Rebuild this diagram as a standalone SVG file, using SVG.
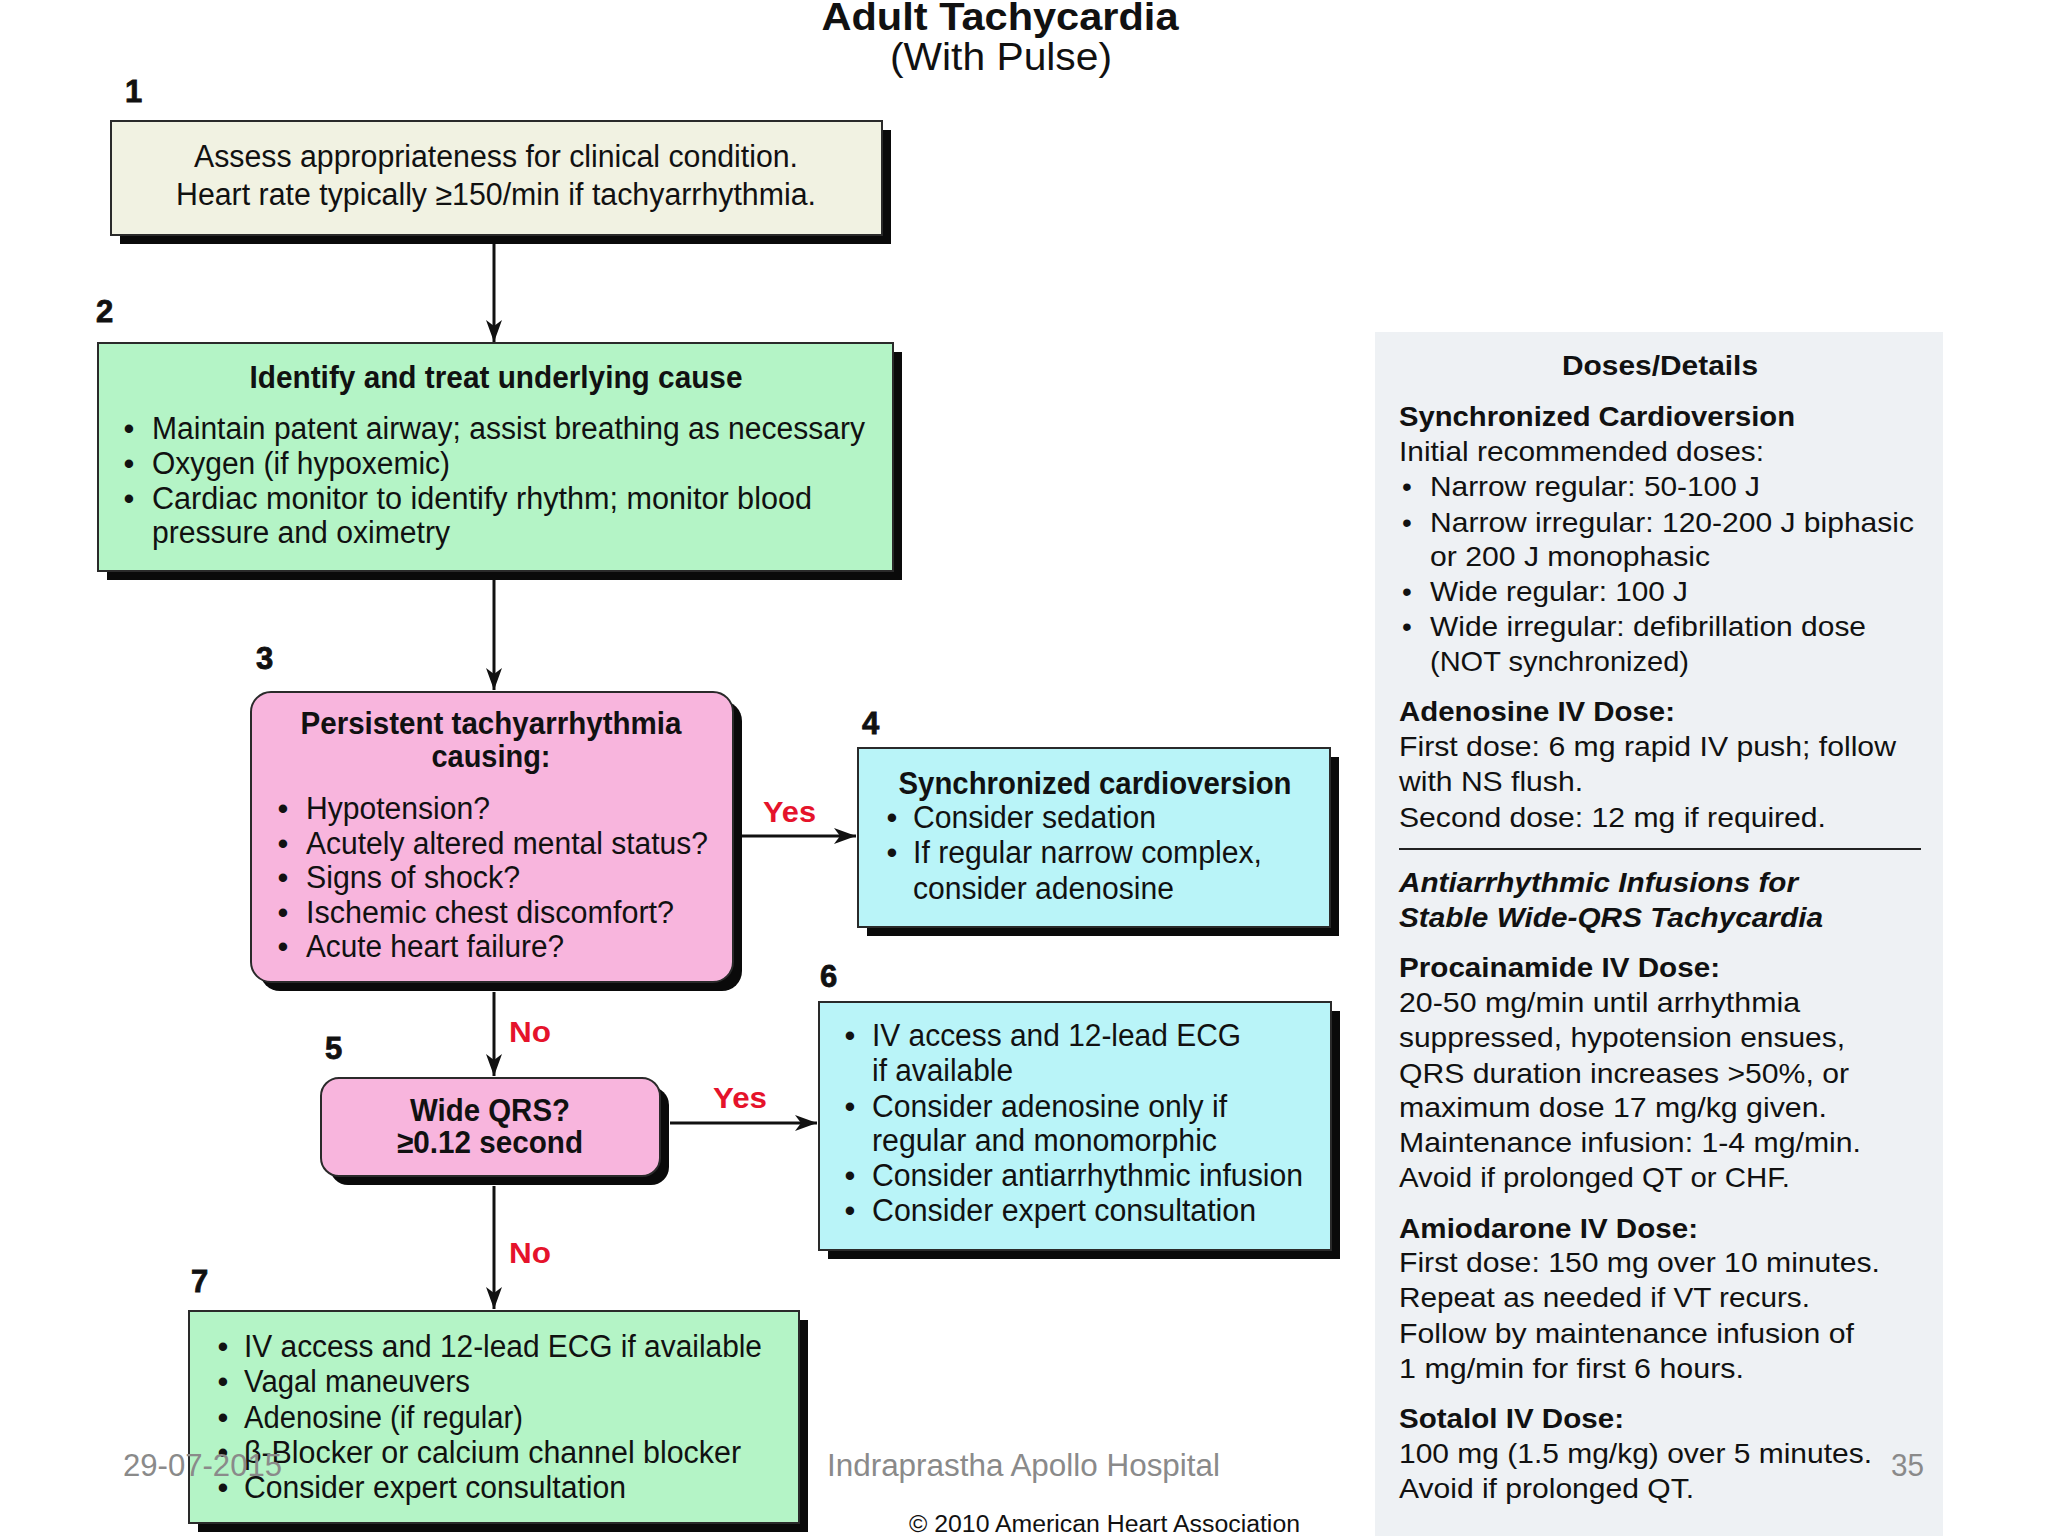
<svg xmlns="http://www.w3.org/2000/svg" width="2048" height="1536" viewBox="0 0 2048 1536">
<defs>
<style>
.t{font-family:"Liberation Sans Narrow","Liberation Sans",Arial,sans-serif;font-size:31px;fill:#111}
.b{font-weight:bold}
.c{text-anchor:middle}
.num{font-family:"Liberation Sans",Arial,sans-serif;font-size:31px;font-weight:bold;fill:#111;stroke:#111;stroke-width:0.8}
.yn{font-family:"Liberation Sans",Arial,sans-serif;font-size:29px;font-weight:bold;fill:#e5132b}
.p{font-family:"Liberation Sans",Arial,sans-serif;font-size:28px;fill:#111}
.foot{font-family:"Liberation Sans",Arial,sans-serif;font-size:31px;fill:#8a8a8a}
.shadow{fill:#0a0a0a}
.box{stroke:#2a2a2a;stroke-width:2}
.beige{fill:#f1f2e2}
.green{fill:#b4f4c6}
.pink{fill:#f8b5dd}
.cyan{fill:#b9f4f8}
.conn{stroke:#111;stroke-width:3;fill:none;marker-end:url(#arr)}
</style>
<marker id="arr" viewBox="0 -9 24 18" refX="22" refY="0" markerWidth="24" markerHeight="18" markerUnits="userSpaceOnUse" orient="auto">
<path d="M0,-8 L22,0 L0,8 L6,0 Z" fill="#111"/>
</marker>
</defs>
<rect width="2048" height="1536" fill="#ffffff"/>

<g id="title">
<text class="t b c" x="1000" y="30" style="font-size:38px" textLength="357" lengthAdjust="spacingAndGlyphs">Adult Tachycardia</text>
<text class="t c" x="1001" y="70" style="font-size:38px" textLength="222" lengthAdjust="spacingAndGlyphs">(With Pulse)</text>
</g>

<g id="details-panel">
<rect x="1375" y="332" width="568" height="1204" fill="#eef1f4"/>
<text class="p b" x="1562" y="375" textLength="196" lengthAdjust="spacingAndGlyphs">Doses/Details</text>
<text class="p b" x="1399" y="426" textLength="396" lengthAdjust="spacingAndGlyphs">Synchronized Cardioversion</text>
<text class="p" x="1399" y="461" textLength="365" lengthAdjust="spacingAndGlyphs">Initial recommended doses:</text>
<text class="p" x="1407" y="496" text-anchor="middle">•</text><text class="p" x="1430" y="496" textLength="330" lengthAdjust="spacingAndGlyphs">Narrow regular: 50-100 J</text>
<text class="p" x="1407" y="532" text-anchor="middle">•</text><text class="p" x="1430" y="532" textLength="484" lengthAdjust="spacingAndGlyphs">Narrow irregular: 120-200 J biphasic</text>
<text class="p" x="1430" y="566" textLength="280" lengthAdjust="spacingAndGlyphs">or 200 J monophasic</text>
<text class="p" x="1407" y="601" text-anchor="middle">•</text><text class="p" x="1430" y="601" textLength="258" lengthAdjust="spacingAndGlyphs">Wide regular: 100 J</text>
<text class="p" x="1407" y="636" text-anchor="middle">•</text><text class="p" x="1430" y="636" textLength="436" lengthAdjust="spacingAndGlyphs">Wide irregular: defibrillation dose</text>
<text class="p" x="1430" y="671" textLength="259" lengthAdjust="spacingAndGlyphs">(NOT synchronized)</text>
<text class="p b" x="1399" y="721" textLength="276" lengthAdjust="spacingAndGlyphs">Adenosine IV Dose:</text>
<text class="p" x="1399" y="756" textLength="497" lengthAdjust="spacingAndGlyphs">First dose: 6 mg rapid IV push; follow</text>
<text class="p" x="1399" y="791" textLength="184" lengthAdjust="spacingAndGlyphs">with NS flush.</text>
<text class="p" x="1399" y="827" textLength="427" lengthAdjust="spacingAndGlyphs">Second dose: 12 mg if required.</text>
<line x1="1399" y1="849" x2="1921" y2="849" stroke="#222" stroke-width="2"/>
<text class="p b" x="1399" y="892" font-style="italic" textLength="399" lengthAdjust="spacingAndGlyphs">Antiarrhythmic Infusions for</text>
<text class="p b" x="1399" y="927" font-style="italic" textLength="424" lengthAdjust="spacingAndGlyphs">Stable Wide-QRS Tachycardia</text>
<text class="p b" x="1399" y="977" textLength="321" lengthAdjust="spacingAndGlyphs">Procainamide IV Dose:</text>
<text class="p" x="1399" y="1012" textLength="401" lengthAdjust="spacingAndGlyphs">20-50 mg/min until arrhythmia</text>
<text class="p" x="1399" y="1047" textLength="446" lengthAdjust="spacingAndGlyphs">suppressed, hypotension ensues,</text>
<text class="p" x="1399" y="1083" textLength="450" lengthAdjust="spacingAndGlyphs">QRS duration increases &gt;50%, or</text>
<text class="p" x="1399" y="1117" textLength="428" lengthAdjust="spacingAndGlyphs">maximum dose 17 mg/kg given.</text>
<text class="p" x="1399" y="1152" textLength="462" lengthAdjust="spacingAndGlyphs">Maintenance infusion: 1-4 mg/min.</text>
<text class="p" x="1399" y="1187" textLength="391" lengthAdjust="spacingAndGlyphs">Avoid if prolonged QT or CHF.</text>
<text class="p b" x="1399" y="1238" textLength="299" lengthAdjust="spacingAndGlyphs">Amiodarone IV Dose:</text>
<text class="p" x="1399" y="1272" textLength="481" lengthAdjust="spacingAndGlyphs">First dose: 150 mg over 10 minutes.</text>
<text class="p" x="1399" y="1307" textLength="411" lengthAdjust="spacingAndGlyphs">Repeat as needed if VT recurs.</text>
<text class="p" x="1399" y="1343" textLength="455" lengthAdjust="spacingAndGlyphs">Follow by maintenance infusion of</text>
<text class="p" x="1399" y="1378" textLength="345" lengthAdjust="spacingAndGlyphs">1 mg/min for first 6 hours.</text>
<text class="p b" x="1399" y="1428" textLength="225" lengthAdjust="spacingAndGlyphs">Sotalol IV Dose:</text>
<text class="p" x="1399" y="1463" textLength="473" lengthAdjust="spacingAndGlyphs">100 mg (1.5 mg/kg) over 5 minutes.</text>
<text class="p" x="1399" y="1498" textLength="295" lengthAdjust="spacingAndGlyphs">Avoid if prolonged QT.</text>
</g>

<g id="connectors">
<line class="conn" x1="494" y1="244" x2="494" y2="342"/>
<line class="conn" x1="494" y1="580" x2="494" y2="690"/>
<line class="conn" x1="742" y1="836" x2="856" y2="836"/>
<line class="conn" x1="494" y1="992" x2="494" y2="1076"/>
<line class="conn" x1="670" y1="1123" x2="817" y2="1123"/>
<line class="conn" x1="494" y1="1186" x2="494" y2="1309"/>
<text class="yn" x="763" y="822" textLength="53" lengthAdjust="spacingAndGlyphs">Yes</text>
<text class="yn" x="509" y="1042" textLength="42" lengthAdjust="spacingAndGlyphs">No</text>
<text class="yn" x="713" y="1108" textLength="54" lengthAdjust="spacingAndGlyphs">Yes</text>
<text class="yn" x="509" y="1263" textLength="42" lengthAdjust="spacingAndGlyphs">No</text>
</g>

<g id="node1">
<text class="num" x="125" y="102">1</text>
<rect class="shadow" x="120" y="130" width="771" height="114"/>
<rect class="box beige" x="111" y="121" width="771" height="114"/>
<text class="t c" x="496" y="167" textLength="604" lengthAdjust="spacingAndGlyphs">Assess appropriateness for clinical condition.</text>
<text class="t c" x="496" y="205" textLength="640" lengthAdjust="spacingAndGlyphs">Heart rate typically ≥150/min if tachyarrhythmia.</text>
</g>

<g id="node2">
<text class="num" x="96" y="322">2</text>
<rect class="shadow" x="107" y="352" width="795" height="228"/>
<rect class="box green" x="98" y="343" width="795" height="228"/>
<text class="t b c" x="496" y="388" textLength="493" lengthAdjust="spacingAndGlyphs">Identify and treat underlying cause</text>
<text class="t c" x="129" y="439">•</text><text class="t" x="152" y="439" textLength="713" lengthAdjust="spacingAndGlyphs">Maintain patent airway; assist breathing as necessary</text>
<text class="t c" x="129" y="474">•</text><text class="t" x="152" y="474" textLength="298" lengthAdjust="spacingAndGlyphs">Oxygen (if hypoxemic)</text>
<text class="t c" x="129" y="509">•</text><text class="t" x="152" y="509" textLength="660" lengthAdjust="spacingAndGlyphs">Cardiac monitor to identify rhythm; monitor blood</text>
<text class="t" x="152" y="543" textLength="298" lengthAdjust="spacingAndGlyphs">pressure and oximetry</text>
</g>

<g id="node3">
<text class="num" x="256" y="669">3</text>
<rect class="shadow" x="260" y="701" width="482" height="290" rx="20"/>
<rect class="box pink" x="251" y="692" width="482" height="290" rx="20"/>
<text class="t b c" x="491" y="734" textLength="381" lengthAdjust="spacingAndGlyphs">Persistent tachyarrhythmia</text>
<text class="t b c" x="491" y="767" textLength="119" lengthAdjust="spacingAndGlyphs">causing:</text>
<text class="t c" x="283" y="819">•</text><text class="t" x="306" y="819" textLength="184" lengthAdjust="spacingAndGlyphs">Hypotension?</text>
<text class="t c" x="283" y="854">•</text><text class="t" x="306" y="854" textLength="402" lengthAdjust="spacingAndGlyphs">Acutely altered mental status?</text>
<text class="t c" x="283" y="888">•</text><text class="t" x="306" y="888" textLength="214" lengthAdjust="spacingAndGlyphs">Signs of shock?</text>
<text class="t c" x="283" y="923">•</text><text class="t" x="306" y="923" textLength="368" lengthAdjust="spacingAndGlyphs">Ischemic chest discomfort?</text>
<text class="t c" x="283" y="957">•</text><text class="t" x="306" y="957" textLength="258" lengthAdjust="spacingAndGlyphs">Acute heart failure?</text>
</g>

<g id="node4">
<text class="num" x="862" y="734">4</text>
<rect class="shadow" x="867" y="757" width="472" height="179"/>
<rect class="box cyan" x="858" y="748" width="472" height="179"/>
<text class="t b c" x="1095" y="794" textLength="393" lengthAdjust="spacingAndGlyphs">Synchronized cardioversion</text>
<text class="t c" x="892" y="828">•</text><text class="t" x="913" y="828" textLength="243" lengthAdjust="spacingAndGlyphs">Consider sedation</text>
<text class="t c" x="892" y="863">•</text><text class="t" x="913" y="863" textLength="349" lengthAdjust="spacingAndGlyphs">If regular narrow complex,</text>
<text class="t" x="913" y="899" textLength="261" lengthAdjust="spacingAndGlyphs">consider adenosine</text>
</g>

<g id="node5">
<text class="num" x="325" y="1059">5</text>
<rect class="shadow" x="330" y="1087" width="339" height="98" rx="18"/>
<rect class="box pink" x="321" y="1078" width="339" height="98" rx="18"/>
<text class="t b c" x="490" y="1121" textLength="160" lengthAdjust="spacingAndGlyphs">Wide QRS?</text>
<text class="t b c" x="490" y="1153" textLength="186" lengthAdjust="spacingAndGlyphs">≥0.12 second</text>
</g>

<g id="node6">
<text class="num" x="820" y="987">6</text>
<rect class="shadow" x="828" y="1011" width="512" height="248"/>
<rect class="box cyan" x="819" y="1002" width="512" height="248"/>
<text class="t c" x="850" y="1046">•</text><text class="t" x="872" y="1046" textLength="369" lengthAdjust="spacingAndGlyphs">IV access and 12-lead ECG</text>
<text class="t" x="872" y="1081" textLength="141" lengthAdjust="spacingAndGlyphs">if available</text>
<text class="t c" x="850" y="1117">•</text><text class="t" x="872" y="1117" textLength="355" lengthAdjust="spacingAndGlyphs">Consider adenosine only if</text>
<text class="t" x="872" y="1151" textLength="345" lengthAdjust="spacingAndGlyphs">regular and monomorphic</text>
<text class="t c" x="850" y="1186">•</text><text class="t" x="872" y="1186" textLength="431" lengthAdjust="spacingAndGlyphs">Consider antiarrhythmic infusion</text>
<text class="t c" x="850" y="1221">•</text><text class="t" x="872" y="1221" textLength="384" lengthAdjust="spacingAndGlyphs">Consider expert consultation</text>
</g>

<g id="node7">
<text class="num" x="191" y="1292">7</text>
<rect class="shadow" x="198" y="1320" width="610" height="212"/>
<rect class="box green" x="189" y="1311" width="610" height="212"/>
<text class="t c" x="223" y="1357">•</text><text class="t" x="244" y="1357" textLength="518" lengthAdjust="spacingAndGlyphs">IV access and 12-lead ECG if available</text>
<text class="t c" x="223" y="1392">•</text><text class="t" x="244" y="1392" textLength="226" lengthAdjust="spacingAndGlyphs">Vagal maneuvers</text>
<text class="t c" x="223" y="1428">•</text><text class="t" x="244" y="1428" textLength="279" lengthAdjust="spacingAndGlyphs">Adenosine (if regular)</text>
<text class="t c" x="223" y="1463">•</text><text class="t" x="244" y="1463" textLength="497" lengthAdjust="spacingAndGlyphs">β-Blocker or calcium channel blocker</text>
<text class="t c" x="223" y="1498">•</text><text class="t" x="244" y="1498" textLength="382" lengthAdjust="spacingAndGlyphs">Consider expert consultation</text>
</g>

<g id="footer">
<text class="t" x="909" y="1532" style="font-size:23px" textLength="391" lengthAdjust="spacingAndGlyphs">© 2010 American Heart Association</text>
<text class="foot" x="123" y="1476" textLength="159" lengthAdjust="spacingAndGlyphs">29-07-2015</text>
<text class="foot" x="827" y="1476" textLength="393" lengthAdjust="spacingAndGlyphs">Indraprastha Apollo Hospital</text>
<text class="foot" x="1891" y="1476" textLength="33" lengthAdjust="spacingAndGlyphs">35</text>
</g>
</svg>
